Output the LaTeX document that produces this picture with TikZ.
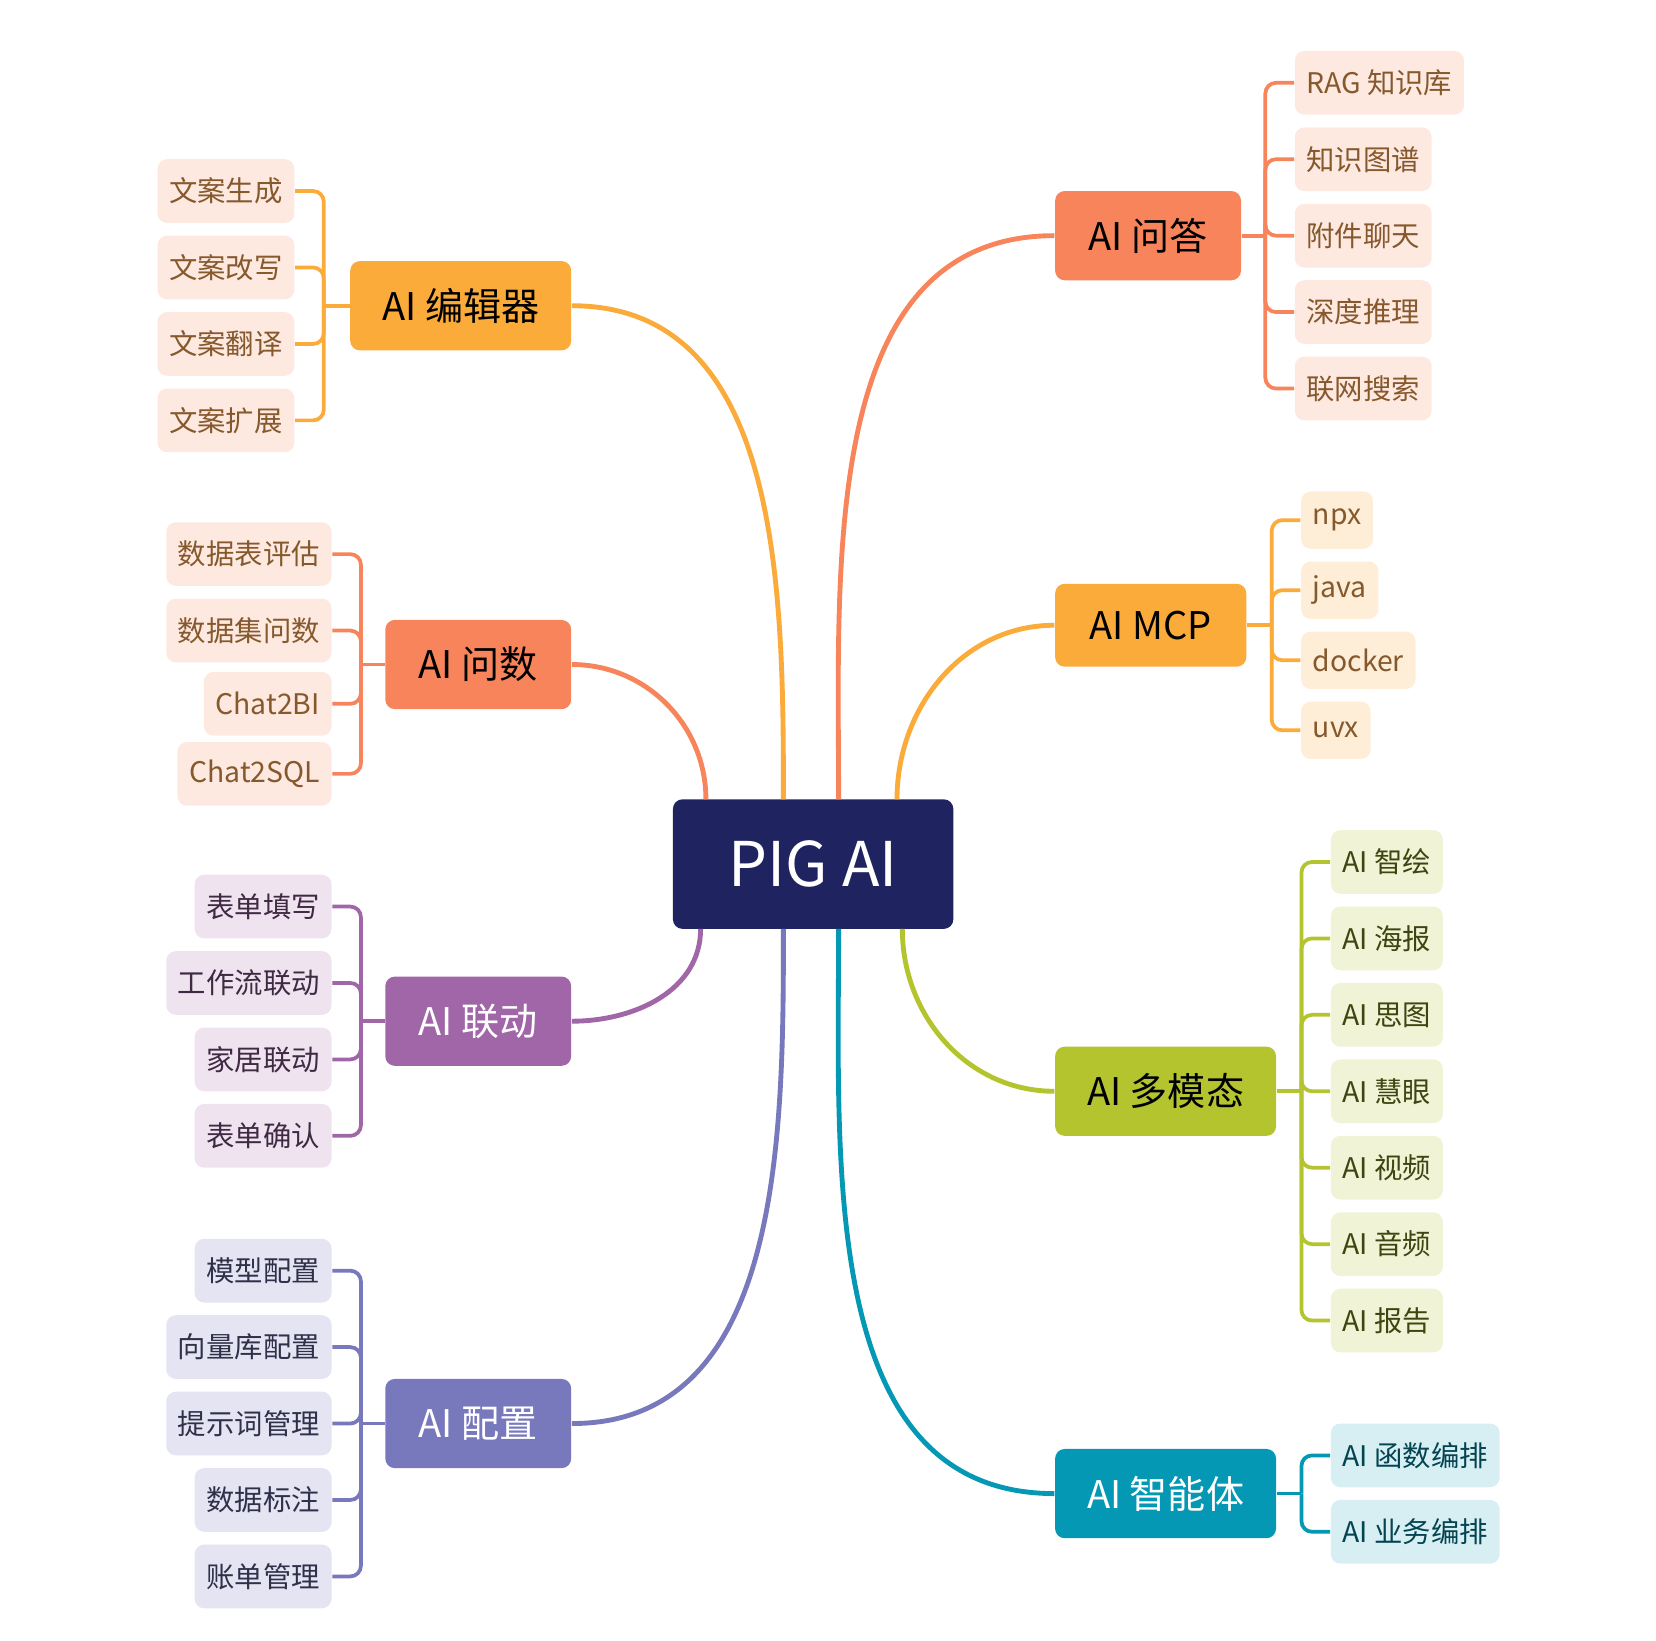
\documentclass[tikz,border=0pt]{standalone}
\usepackage{fontspec}
\setmainfont{Noto Sans CJK SC}
\begin{document}
\begin{tikzpicture}[
    x=0.01cm, y=-0.01cm,
    Main/.style={% top level topics
      rounded corners=0.09cm, minimum height=0.84cm, inner xsep=0.14cm,
      font=\fontsize{10.2}{12}\selectfont
    },
    Leaf/.style={% second level items
      rounded corners=0.09cm, minimum height=0.6cm, inner xsep=0.11cm,
      font=\fontsize{7.6}{9}\selectfont
    },
    Link/.style={line width=1.3pt},
    Tie/.style={line width=1pt, rounded corners=0.1cm}
  ]
  \definecolor{navy}{HTML}{1F2461}
  \definecolor{coral}{HTML}{F7845A}
  \definecolor{amber}{HTML}{FBAB3A}
  \definecolor{plum}{HTML}{A066A8}
  \definecolor{slate}{HTML}{7878BC}
  \definecolor{lime}{HTML}{B4C42E}
  \definecolor{teal}{HTML}{0598B4}
  \useasboundingbox (0,0) rectangle (1560,1545);

  % centre
  \node[rounded corners=0.09cm, fill=navy, text=white, minimum width=2.64cm, minimum height=1.22cm,
        font=\fontsize{16.5}{18}\selectfont] (pig) at (766,814) {PIG AI};

  % main topics
  \node[Main, fill=amber, minimum width=2.08cm] (edit) at (434,288) {AI 编辑器};
  \node[Main, fill=coral, minimum width=1.75cm] (ask) at (450.5,626) {AI 问数};
  \node[Main, fill=plum, text=white, minimum width=1.75cm] (link) at (450.5,962) {AI 联动};
  \node[Main, fill=slate, text=white, minimum width=1.75cm] (conf) at (450.5,1341) {AI 配置};
  \node[Main, fill=coral, minimum width=1.75cm] (qa) at (1081.5,222) {AI 问答};
  \node[Main, fill=amber, minimum width=1.8cm, minimum height=0.78cm] (mcp) at (1084,589) {AI MCP};
  \node[Main, fill=lime, minimum width=2.08cm] (multi) at (1098,1028) {AI 多模态};
  \node[Main, fill=teal, text=white, minimum width=2.08cm] (agent) at (1098,1407) {AI 智能体};

  % links to the centre
  \draw[Link, amber] (edit.east) to[out=0, in=90] (738,753);
  \draw[Link, coral] (ask.east) to[out=0, in=90] (665,753);
  \draw[Link, plum] (link.east) to[out=0, in=-90] (660,875);
  \draw[Link, slate] (conf.east) to[out=0, in=-90] (738,875);
  \draw[Link, coral] (qa.west) to[out=180, in=90] (790,753);
  \draw[Link, amber] (mcp.west) to[out=180, in=90] (845,753);
  \draw[Link, lime] (multi.west) to[out=180, in=-90] (850,875);
  \draw[Link, teal] (agent.west) to[out=180, in=-90] (790,875);

  % AI 编辑器
  \coordinate (editB) at (305,288);
  \draw[Tie, amber] (edit.west) -- (editB);
  \foreach \t [count=\i] in {文案生成,文案改写,文案翻译,文案扩展}{
    \node[Leaf, fill=coral!18, text=brown!70!black, anchor=east] (edit\i) at (278,108+72*\i) {\t};
    \draw[Tie, amber] (editB) |- (edit\i.east);
  }

  % AI 问数
  \coordinate (askB) at (340,626);
  \draw[Tie, coral] (ask.west) -- (askB);
  \foreach \t/\y [count=\i] in {数据表评估/522,数据集问数/594,Chat2BI/663,Chat2SQL/729}{
    \node[Leaf, fill=coral!18, text=brown!70!black, anchor=east] (ask\i) at (313,\y) {\t};
    \draw[Tie, coral] (askB) |- (ask\i.east);
  }

  % AI 联动
  \coordinate (linkB) at (340,962);
  \draw[Tie, plum] (link.west) -- (linkB);
  \foreach \t [count=\i] in {表单填写,工作流联动,家居联动,表单确认}{
    \node[Leaf, fill=plum!18, text=plum!40!black, anchor=east] (link\i) at (313,782+72*\i) {\t};
    \draw[Tie, plum] (linkB) |- (link\i.east);
  }

  % AI 配置
  \coordinate (confB) at (340,1341);
  \draw[Tie, slate] (conf.west) -- (confB);
  \foreach \t [count=\i] in {模型配置,向量库配置,提示词管理,数据标注,账单管理}{
    \node[Leaf, fill=slate!20, text=slate!40!black, anchor=east] (conf\i) at (313,1125+72*\i) {\t};
    \draw[Tie, slate] (confB) |- (conf\i.east);
  }

  % AI 问答
  \coordinate (qaB) at (1192,222);
  \draw[Tie, coral] (qa.east) -- (qaB);
  \foreach \t [count=\i] in {RAG 知识库,知识图谱,附件聊天,深度推理,联网搜索}{
    \node[Leaf, fill=coral!18, text=brown!70!black, anchor=west] (qa\i) at (1219,6+72*\i) {\t};
    \draw[Tie, coral] (qaB) |- (qa\i.west);
  }

  % AI MCP
  \coordinate (mcpB) at (1198,589);
  \draw[Tie, amber] (mcp.east) -- (mcpB);
  \foreach \t [count=\i] in {npx,java,docker,uvx}{
    \node[Leaf, fill=amber!20, text=brown!70!black, minimum height=0.54cm, anchor=west] (mcp\i) at (1225,424+66*\i) {\t};
    \draw[Tie, amber] (mcpB) |- (mcp\i.west);
  }

  % AI 多模态
  \coordinate (multiB) at (1226,1028);
  \draw[Tie, lime] (multi.east) -- (multiB);
  \foreach \t [count=\i] in {AI 智绘,AI 海报,AI 思图,AI 慧眼,AI 视频,AI 音频,AI 报告}{
    \node[Leaf, fill=lime!20, text=lime!35!black, anchor=west] (multi\i) at (1253,740+72*\i) {\t};
    \draw[Tie, lime] (multiB) |- (multi\i.west);
  }

  % AI 智能体
  \coordinate (agentB) at (1226,1407);
  \draw[Tie, teal] (agent.east) -- (agentB);
  \foreach \t [count=\i] in {AI 函数编排,AI 业务编排}{
    \node[Leaf, fill=teal!16, text=teal!45!black, anchor=west] (agent\i) at (1253,1299+72*\i) {\t};
    \draw[Tie, teal] (agentB) |- (agent\i.west);
  }
\end{tikzpicture}
\end{document}
